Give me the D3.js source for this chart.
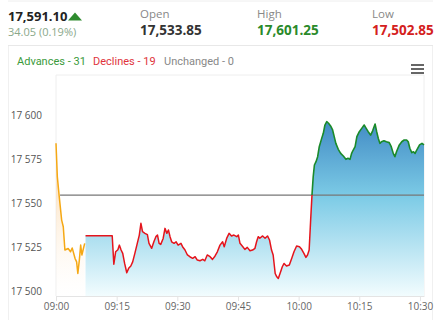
<!DOCTYPE html>
<html><head><meta charset="utf-8">
<script src="https://cdn.jsdelivr.net/npm/d3@7"></script>
<style>
html,body{margin:0;padding:0;background:#fff;}
svg{display:block;font-family:"Open Sans",sans-serif;}
</style></head><body>
<svg id="c" width="445" height="320"></svg>
<script>
// ---- data ----
const lastPrice = "17,591.10";
const change = "34.05 (0.19%)";
const statLabels = ["Open", "High", "Low"];
const statValues = ["17,533.85", "17,601.25", "17,502.85"];
const legendLabels = ["Advances - 31", "Declines - 19", "Unchanged - 0"];
const prevClose = 17554.5;
const yTicks = [17500, 17525, 17550, 17575, 17600];
const xTickLabels = ["09:00", "09:15", "09:30", "09:45", "10:00", "10:15", "10:30"];
// minutes after 09:00
const preOpenMinutes = [0,0.33,0.8,1.4,1.8,2.2,3.0,3.6,4.0,4.7,5.1,5.4,5.77,6.1,6.4,6.8,7.1];
const preOpenValues = [17583.9,17564.9,17553.6,17540.3,17536.5,17523.3,17524.2,17522.3,17524.5,17518.6,17516.6,17510,17517.6,17526.1,17520.5,17524.3,17527.1];
const sessionMinutes = [7.3,13.9,14.3,14.75,15.3,15.66,16.1,16.5,16.97,17.5,17.97,18.5,18.96,19.5,20.1,20.6,21.0,21.4,22.0,22.6,23.0,23.66,24.2,24.7,25.1,25.5,25.9,26.5,26.95,27.4,27.8,28.2,28.6,29.2,29.7,30.2,30.9,31.3,31.9,32.5,33.1,33.8,34.4,34.95,35.6,36.3,36.8,37.4,38.1,38.7,39.3,39.9,40.55,41.2,41.6,42.2,42.8,43.4,44.0,44.7,45.1,45.5,46.2,46.7,47.3,47.97,48.6,49.2,49.6,50.0,50.4,51.1,51.7,52.3,52.8,53.3,53.7,54.2,54.6,54.97,55.4,55.96,56.4,57.0,57.7,58.3,58.85,59.5,60.2,60.75,61.3,61.8,62.2,62.6,62.97,63.3,63.6,63.9,64.3,64.7,65.1,65.7,66.1,66.5,66.95,67.4,67.9,68.4,68.8,69.2,69.8,70.4,71.05,71.7,72.2,72.7,73.1,73.5,73.96,74.4,75.0,75.6,76.2,76.7,77.2,77.8,78.3,78.9,79.3,79.7,80.1,80.5,81.1,81.7,82.4,82.9,83.4,83.8,84.2,84.9,85.5,86.1,86.7,87.1,87.5,87.98,88.4,88.8,89.2,89.9,90.5,91.0];
const sessionValues = [17531.4,17531.4,17515.3,17522.3,17523.5,17526.1,17523.3,17521.4,17515.7,17510.4,17512.9,17514.2,17516.6,17521.4,17527.1,17531.8,17538.5,17533.7,17532.8,17532.0,17527.1,17524.3,17528,17530.9,17531.8,17527.1,17526.5,17529.9,17535.6,17532.8,17534.7,17530.9,17528,17527.1,17528,17526.1,17527.1,17525.2,17523.3,17520.5,17519.5,17518.6,17519.5,17517.6,17517.2,17518.0,17517.2,17520.5,17519.5,17518,17519.8,17522.3,17526.1,17528,17525.2,17529.9,17532.8,17531.3,17531.8,17530.9,17531.8,17527.1,17525.2,17523.7,17524.8,17522.9,17523.3,17524.3,17528,17530.9,17530.0,17531.3,17530.0,17531.3,17529,17523.3,17520.5,17510,17508.1,17507.2,17510,17513.8,17515.7,17514.2,17514.8,17518.6,17522.3,17525.6,17525.2,17523.7,17521.4,17519.1,17520.5,17523.3,17540.3,17554.5,17564.9,17571.6,17573.5,17576.3,17582,17586.7,17589.6,17594.3,17596.2,17595.3,17593.8,17591.5,17587.7,17583.9,17580.5,17578.2,17576.7,17574.8,17575.4,17574.8,17578.2,17580.1,17582,17587.7,17590.5,17592.4,17594.3,17592.4,17590.5,17588.6,17591.0,17594.9,17590.5,17586.7,17583.9,17584.8,17585.4,17584.8,17584.3,17582,17578.2,17576.3,17579.1,17583,17584.8,17585.8,17585.8,17584.8,17581.1,17578.6,17579.1,17578.2,17580.1,17583,17583.9,17583];

// ---- layout ----
const svg = d3.select("#c");
const L = 56, R = 424, T = 75, B = 296;
const base = new Date(2022, 0, 1, 9, 0, 0);
const toDate = m => new Date(base.getTime() + m * 60000);
const x = d3.scaleTime().domain([toDate(0), toDate(91)]).range([L, R]);
const y = d3.scaleLinear().domain([17497.2, 17622.7]).range([B, T]);

const defs = svg.append("defs");
const gBlue = defs.append("linearGradient").attr("id", "gBlue")
  .attr("gradientUnits", "userSpaceOnUse").attr("x1", 0).attr("x2", 0)
  .attr("y1", y(17600)).attr("y2", B);
gBlue.append("stop").attr("offset", 0).attr("stop-color", "#3d86c2");
gBlue.append("stop").attr("offset", 0.45).attr("stop-color", "#7ccbe6");
gBlue.append("stop").attr("offset", 1).attr("stop-color", "#f2fcfe");
const gOr = defs.append("linearGradient").attr("id", "gOr")
  .attr("gradientUnits", "userSpaceOnUse").attr("x1", 0).attr("x2", 0)
  .attr("y1", y(17560)).attr("y2", B);
gOr.append("stop").attr("offset", 0).attr("stop-color", "#fbd9ae").attr("stop-opacity", 0.7);
gOr.append("stop").attr("offset", 1).attr("stop-color", "#ffffff").attr("stop-opacity", 0.2);
defs.append("clipPath").attr("id", "below").append("rect")
  .attr("x", 0).attr("y", y(prevClose)).attr("width", 445).attr("height", 320);
defs.append("clipPath").attr("id", "above").append("rect")
  .attr("x", 0).attr("y", 0).attr("width", 445).attr("height", y(prevClose));

// ---- header ----
svg.append("line").attr("x1", 8).attr("x2", 433).attr("y1", 1).attr("y2", 1).attr("stroke", "#eee");
svg.append("line").attr("x1", 8).attr("x2", 433).attr("y1", 45.5).attr("y2", 45.5).attr("stroke", "#e8e8e8");
svg.append("line").attr("x1", 8.5).attr("x2", 8.5).attr("y1", 46).attr("y2", 320).attr("stroke", "#f0f0f0");
svg.append("line").attr("x1", 432.5).attr("x2", 432.5).attr("y1", 46).attr("y2", 320).attr("stroke", "#f0f0f0");

svg.append("text").attr("x", 8).attr("y", 21).attr("font-size", 13).attr("font-weight", 700)
  .attr("fill", "#222").text(lastPrice);
svg.append("path").attr("d", "M68,20.5 L75,12.5 L82,20.5 Z").attr("fill", "#2e8b2e");
svg.append("text").attr("x", 8).attr("y", 36).attr("font-size", 11)
  .attr("fill", "#8aa88a").text(change);

const statX = [140, 257, 372];
const statColors = ["#333", "#2a8a2a", "#d42020"];
statLabels.forEach((s, i) => {
  svg.append("text").attr("x", statX[i]).attr("y", 18).attr("font-size", 11.5)
    .attr("fill", "#888").text(s);
  svg.append("text").attr("x", statX[i]).attr("y", 34.5).attr("font-size", 13.5)
    .attr("font-weight", 700).attr("fill", statColors[i]).text(statValues[i]);
});

// ---- legend ----
const legX = [17, 93, 164];
const legColors = ["#3a9a3a", "#e0343c", "#888"];
legendLabels.forEach((s, i) => {
  svg.append("text").attr("x", legX[i]).attr("y", 65).attr("font-size", 11)
    .attr("font-family", "Roboto, sans-serif").attr("fill", legColors[i]).text(s);
});
// menu icon
[0, 4, 8].forEach(d => svg.append("rect").attr("x", 411).attr("y", 64 + d)
  .attr("width", 13).attr("height", 2).attr("fill", "#666"));

// ---- plot frame ----
svg.append("path").attr("d", `M${L},${B} L${L},${T} L${R},${T} L${R},${B}`)
  .attr("fill", "none").attr("stroke", "#eeeeee");

// ---- areas ----
const pre = preOpenMinutes.map((m, i) => ({ t: toDate(m), v: preOpenValues[i] }));
const ses = sessionMinutes.map((m, i) => ({ t: toDate(m), v: sessionValues[i] }));
const area = d3.area().x(d => x(d.t)).y0(B).y1(d => y(d.v));
const line = d3.line().x(d => x(d.t)).y(d => y(d.v));

svg.append("path").datum(pre).attr("d", area).attr("fill", "url(#gOr)");
svg.append("path").datum(ses).attr("d", area).attr("fill", "url(#gBlue)");

// previous close line
svg.append("line").attr("x1", x(toDate(1))).attr("x2", R).attr("y1", y(prevClose)).attr("y2", y(prevClose))
  .attr("stroke", "#777").attr("stroke-width", 1.3);

// lines
svg.append("path").datum(pre).attr("d", line).attr("fill", "none")
  .attr("stroke", "#f5a814").attr("stroke-width", 1.5).attr("stroke-linejoin", "round");
svg.append("path").datum(ses).attr("d", line).attr("fill", "none").attr("clip-path", "url(#below)")
  .attr("stroke", "#e5141c").attr("stroke-width", 1.5).attr("stroke-linejoin", "round");
svg.append("path").datum(ses).attr("d", line).attr("fill", "none").attr("clip-path", "url(#above)")
  .attr("stroke", "#1a8a2a").attr("stroke-width", 1.6).attr("stroke-linejoin", "round");

// ---- axes ----
const xTicks = xTickLabels.map((s, i) => toDate(i * 15));
const xAxis = svg.append("g").attr("transform", `translate(0,${B})`)
  .call(d3.axisBottom(x).tickValues(xTicks).tickSize(5).tickSizeOuter(0)
    .tickFormat((d, i) => xTickLabels[i]));
xAxis.select(".domain").attr("stroke", "#e4e4e4");
xAxis.selectAll(".tick line").attr("stroke", "#e4e4e4");
xAxis.selectAll("text").attr("font-family", "Open Sans, sans-serif").attr("font-size", 10)
  .attr("fill", "#666").attr("dy", "0.85em").attr("y", 5);

const yAxis = svg.append("g").attr("transform", `translate(${L - 11},0)`)
  .call(d3.axisLeft(y).tickValues(yTicks).tickSize(0)
    .tickFormat(d => d3.format(",")(d).replace(",", " ")));
yAxis.select(".domain").remove();
yAxis.selectAll("text").attr("font-family", "Open Sans, sans-serif").attr("font-size", 10)
  .attr("fill", "#555");
</script>
</body></html>
